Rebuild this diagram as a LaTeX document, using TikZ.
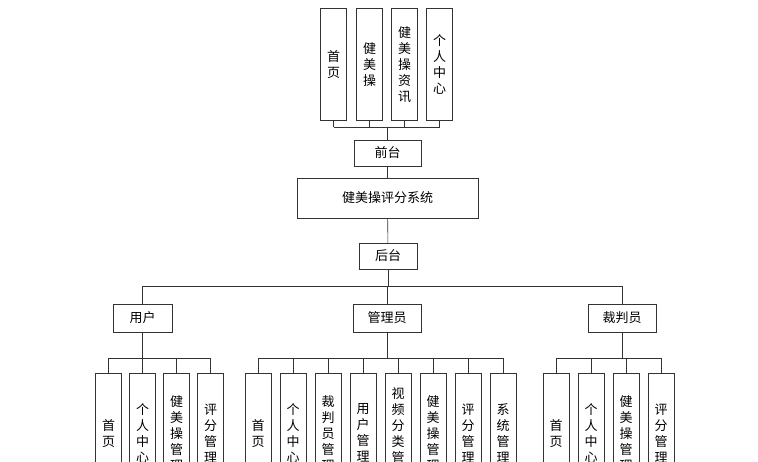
\documentclass[tikz,border=0pt]{standalone}
\usepackage{fontspec}
\newfontfamily\cjk{Noto Sans CJK SC}
\tikzset{
 vbox/.style={draw=black!80,fill=white,anchor=north,minimum width=26pt,inner sep=1pt,align=center,font=\cjk\fontsize{13}{16}\selectfont},
 hbox/.style={draw=black!80,fill=white,anchor=center,inner sep=2pt,font=\cjk\fontsize{13}{16}\selectfont},
 ln/.style={draw=black!80,line width=0.6pt}
}
\begin{document}
\begin{tikzpicture}[x=1pt,y=-1pt]
\useasboundingbox (0,0) rectangle (758,462);
\clip (0,0) rectangle (758,462);
% top
\node[vbox,minimum height=112pt] (t1) at (333.5,8) {首\\页};
\node[vbox,minimum height=112pt] (t2) at (369.5,8) {健\\美\\操};
\node[vbox,minimum height=112pt] (t3) at (404.5,8) {健\\美\\操\\资\\讯};
\node[vbox,minimum height=112pt] (t4) at (439.5,8) {个\\人\\中\\心};
\node[hbox,minimum width=67pt,minimum height=26pt] (qt) at (387.5,153) {前台};
\node[hbox,minimum width=181pt,minimum height=40pt] (sys) at (387.5,198) {健美操评分系统};
\node[hbox,minimum width=58pt,minimum height=26pt] (ht) at (388,256) {后台};
\coordinate (tb) at (387.5,127);
\foreach \n in {t1,t2,t3,t4} \draw[ln] (\n.south) -- (\n.south|-tb);
\draw[ln] (t1.south|-tb) -- (t4.south|-tb);
\draw[ln] (tb) -- (qt.north);
\draw[ln] (qt) -- (sys);
\draw[ln] (sys) -- (ht);
% level 2
\node[hbox,minimum width=59pt,minimum height=28pt] (yh) at (142.5,318) {用户};
\node[hbox,minimum width=68pt,minimum height=28pt] (gly) at (387,318) {管理员};
\node[hbox,minimum width=68pt,minimum height=28pt] (cpy) at (622,318) {裁判员};
\coordinate (hb) at (388,286);
\draw[ln] (ht.south) -- (hb);
\draw[ln] (yh.north|-hb) -- (cpy.north|-hb);
\foreach \n in {yh,gly,cpy} \draw[ln] (\n.north|-hb) -- (\n.north);
% bottom
\def\bt{373}
\foreach \x/\t [count=\i] in {108.5/{首\\页},142.5/{个\\人\\中\\心},176.5/{健\\美\\操\\管\\理},210.5/{评\\分\\管\\理}}
 \node[vbox,minimum height=120pt] (u\i) at (\x,\bt) {\t};
\foreach \x/\t [count=\i] in {258/{首\\页},293/{个\\人\\中\\心},328/{裁\\判\\员\\管\\理},363/{用\\户\\管\\理},398/{视\\频\\分\\类\\管\\理},433/{健\\美\\操\\管\\理},468/{评\\分\\管\\理},503/{系\\统\\管\\理}}
 \node[vbox,minimum height=120pt] (a\i) at (\x,\bt) {\t};
\foreach \x/\t [count=\i] in {556/{首\\页},591/{个\\人\\中\\心},626/{健\\美\\操\\管\\理},661/{评\\分\\管\\理}}
 \node[vbox,minimum height=120pt] (c\i) at (\x,\bt) {\t};
\coordinate (bb) at (0,358);
\draw[ln] (yh.south) -- (yh.south|-bb); \draw[ln] (u1.north|-bb) -- (u4.north|-bb);
\foreach \i in {1,...,4} \draw[ln] (u\i.north|-bb) -- (u\i.north);
\draw[ln] (gly.south) -- (gly.south|-bb); \draw[ln] (a1.north|-bb) -- (a8.north|-bb);
\foreach \i in {1,...,8} \draw[ln] (a\i.north|-bb) -- (a\i.north);
\draw[ln] (cpy.south) -- (cpy.south|-bb); \draw[ln] (c1.north|-bb) -- (c4.north|-bb);
\foreach \i in {1,...,4} \draw[ln] (c\i.north|-bb) -- (c\i.north);
\end{tikzpicture}
\end{document}
